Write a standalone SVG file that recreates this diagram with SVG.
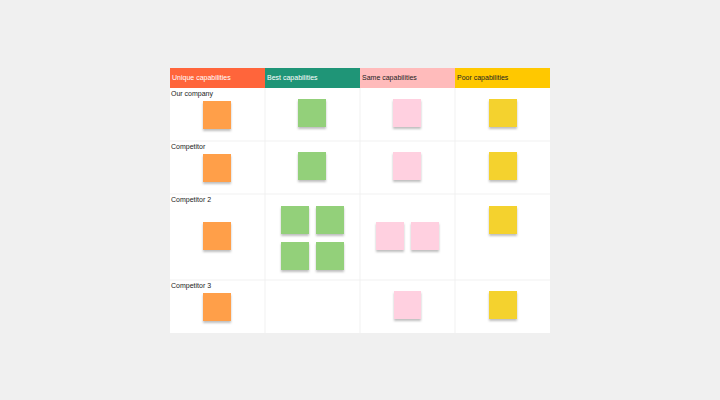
<svg xmlns="http://www.w3.org/2000/svg" width="720" height="400" viewBox="0 0 720 400">
<defs>
<filter id="sh" x="-20%" y="-20%" width="140%" height="150%"><feDropShadow dx="0" dy="2" stdDeviation="1.2" flood-color="#000" flood-opacity="0.25"/></filter>
<style>
.h{font-family:"Liberation Sans",Arial,sans-serif;font-size:7px}
.r{font-family:"Liberation Sans",Arial,sans-serif;font-size:7px;fill:#222}
.o{fill:#ff9f4a;filter:url(#sh)}
.g{fill:#93d07a;filter:url(#sh)}
.p{fill:#ffd0e0;filter:url(#sh)}
.y{fill:#f4d22e;filter:url(#sh)}
.l{stroke:#eeeeee;stroke-width:0.8}
</style>
</defs>
<rect width="720" height="400" fill="#f0f0f0"/>
<g id="table">
<rect x="170" y="88" width="380" height="245" fill="#ffffff"/>
<rect x="170" y="68" width="95" height="20" fill="#ff653b"/>
<rect x="265" y="68" width="95" height="20" fill="#1f9577"/>
<rect x="360" y="68" width="95" height="20" fill="#ffbbbb"/>
<rect x="455" y="68" width="95" height="20" fill="#ffc800"/>
<text class="h" x="172" y="80" fill="#ffffff">Unique capabilities</text>
<text class="h" x="267" y="80" fill="#ffffff">Best capabilities</text>
<text class="h" x="362" y="80" fill="#222">Same capabilities</text>
<text class="h" x="457" y="80" fill="#222">Poor capabilities</text>
<line class="l" x1="265" y1="88" x2="265" y2="333"/>
<line class="l" x1="360" y1="88" x2="360" y2="333"/>
<line class="l" x1="455" y1="88" x2="455" y2="333"/>
<line class="l" x1="170" y1="141" x2="550" y2="141"/>
<line class="l" x1="170" y1="194" x2="550" y2="194"/>
<line class="l" x1="170" y1="280" x2="550" y2="280"/>
<text class="r" x="171" y="96">Our company</text>
<text class="r" x="171" y="149">Competitor</text>
<text class="r" x="171" y="202">Competitor 2</text>
<text class="r" x="171" y="288">Competitor 3</text>
</g>
<g id="row1">
<rect class="o" x="203" y="101" width="28" height="28"/>
<rect class="g" x="298" y="99" width="28" height="28"/>
<rect class="p" x="393" y="99" width="28" height="28"/>
<rect class="y" x="489" y="99" width="28" height="28"/>
</g>
<g id="row2">
<rect class="o" x="203" y="154" width="28" height="28"/>
<rect class="g" x="298" y="152" width="28" height="28"/>
<rect class="p" x="393" y="152" width="28" height="28"/>
<rect class="y" x="489" y="152" width="28" height="28"/>
</g>
<g id="row3">
<rect class="o" x="203" y="222" width="28" height="28"/>
<rect class="g" x="281" y="206" width="28" height="28"/>
<rect class="g" x="316" y="206" width="28" height="28"/>
<rect class="g" x="281" y="242" width="28" height="28"/>
<rect class="g" x="316" y="242" width="28" height="28"/>
<rect class="p" x="376" y="222" width="28" height="28"/>
<rect class="p" x="411" y="222" width="28" height="28"/>
<rect class="y" x="489" y="206" width="28" height="28"/>
</g>
<g id="row4">
<rect class="o" x="203" y="293" width="28" height="28"/>
<rect class="p" x="394" y="291" width="27" height="28"/>
<rect class="y" x="489" y="291" width="28" height="28"/>
</g>
<g id="connectors"/>
</svg>
